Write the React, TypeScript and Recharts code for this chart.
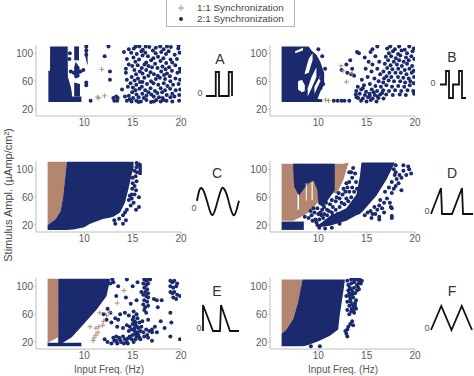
import { ComposedChart, LineChart, Line, Area, Scatter, XAxis, YAxis } from "recharts";

type Pair = [number, number];
type Band = [number, number, number];

const NAVY = "#1b2a6d";
const BROWN = "#b5866f";
const WHITE = "#ffffff";

const xTicks = [10, 15, 20];
const yTicks = [20, 60, 100];

const legendLabels = ["1:1 Synchronization", "2:1 Synchronization"];
const xTitle = "Input Freq. (Hz)";
const yTitle = "Stimulus Ampl. (µAmp/cm²)";

// regiones densas: [frecuencia, amplitud baja, amplitud alta]
const aBlock: Band[] = [[6.28, 30, 75], [6.45, 30, 75], [6.46, 30, 110], [8.28, 30, 110], [8.3, 30, 66], [8.6, 30, 52], [8.7, 30, 44], [8.72, 30, 38], [9.7, 30, 38]];
const aColumn1: Band[] = [[8.95, 38, 58], [9.55, 38, 56]];
const aColumn2: Band[] = [[8.95, 66, 80], [9.1, 64, 88], [9.5, 66, 80]];
const aColumn3: Band[] = [[8.95, 90, 110], [9.45, 90, 110]];
const aColumn4: Band[] = [[10.1, 96, 110], [10.3, 84, 110], [10.35, 84, 86]];

const bBlock: Band[] = [[6.2, 30, 110], [9.0, 30, 110], [9.3, 30, 104], [9.8, 30, 98], [10.2, 45, 88], [10.6, 55, 72]];
const bBase: Band[] = [[8.5, 30, 36], [10.4, 30, 34]];
const bGap1: Band[] = [[7.9, 48, 60], [8.3, 44, 62], [8.6, 46, 54]];
const bGap2: Band[] = [[8.6, 70, 72], [9.0, 72, 92], [9.4, 90, 100]];
const bGap3: Band[] = [[8.9, 38, 50], [9.3, 50, 66], [9.8, 66, 80]];
const bGap4: Band[] = [[7.6, 100, 103], [8.4, 104, 108]];
const bGap5: Band[] = [[9.6, 42, 52], [10.2, 60, 68]];

const cBrown: Band[] = [[6.2, 20, 111], [7.0, 28, 111], [7.55, 40, 111], [7.8, 60, 111], [8.2, 108, 111]];
const cNavy: Band[] = [[6.2, 13, 20], [7.0, 13, 28], [7.55, 13, 40], [7.8, 13, 60], [8.2, 13, 111], [9.0, 14, 111], [10.0, 17, 111], [10.5, 21, 111], [11.0, 24, 111], [12.0, 29, 111], [12.5, 30, 111], [13.0, 32, 111], [13.7, 38, 111], [14.2, 52, 111], [14.55, 71, 111], [14.9, 93, 111], [15.1, 102, 111]];
const cEdge: Band[] = [[15.6, 92, 111], [15.95, 92, 108]];

const dBrown: Band[] = [[6.2, 26, 108], [7.4, 26, 108], [8.0, 30, 108], [9.0, 38, 108], [9.8, 50, 108], [10.2, 57, 108], [11.6, 66, 108], [11.9, 65, 108], [12.6, 85, 108], [13.1, 108, 110]];
const dTop: Band[] = [[7.4, 100, 108], [7.5, 75, 108], [8.0, 62, 108], [8.4, 70, 108], [9.0, 80, 108], [9.5, 84, 108], [9.9, 70, 108], [10.0, 50, 108], [10.5, 46, 108], [11.0, 56, 108], [11.7, 70, 108]];
const dLow: Band[] = [[6.2, 13, 25], [8.5, 13, 25]];
const dDiag: Band[] = [[10.0, 17, 20], [11.2, 19, 33], [12.9, 26, 44], [13.94, 34, 64], [14.3, 36, 90], [14.46, 38, 110], [14.63, 40, 110], [16.0, 62, 110], [17.04, 85, 110], [17.9, 109, 110]];
const dGap1: Band[] = [[7.85, 42, 64], [8.0, 42, 64]];
const dGap2: Band[] = [[8.7, 55, 80], [8.8, 55, 80]];
const dGap3: Band[] = [[9.3, 56, 82], [9.42, 56, 82]];

const eBrown: Band[] = [[6.2, 19, 111], [7.3, 27, 111]];
const eNavy: Band[] = [[7.3, 14, 111], [7.9, 20, 111], [8.7, 27, 111], [9.5, 39, 111], [10.4, 53, 111], [11.3, 67, 111], [12.3, 86, 111], [12.65, 109, 111]];
const eBase: Band[] = [[6.2, 14, 19], [9.7, 14, 19]];

const fBrown: Band[] = [[6.2, 32, 110], [6.7, 38, 110], [7.4, 53, 110], [7.9, 77, 110], [8.37, 108, 110]];
const fNavy: Band[] = [[6.2, 14, 32], [6.7, 14, 38], [7.4, 14, 53], [7.9, 14, 77], [8.37, 14, 110], [8.8, 15, 110], [10.0, 21, 110], [11.2, 29, 110], [12.05, 38, 110], [12.2, 57, 110], [12.57, 91, 110], [12.74, 108, 110]];

// puntos sueltos: [frecuencia, amplitud]
const aDots: Pair[] = [
  [10.2, 110], [10.2, 104], [10.2, 98], [12.5, 110], [12.1, 96], [12.65, 74], [12.65, 62], [10.65, 32], [13, 36], [13.1, 32], [13.3, 38], [13.4, 32], [13.45, 36],
  [10.2, 58], [10.2, 54], [9.9, 76], [9.6, 74], [8.6, 74], [8.9, 72], [8.45, 92], [8.5, 100], [13.9, 48], [14.2, 38], [14.3, 72], [14.4, 62], [14.3, 78], [14.1, 102], [14.4, 92], [14.6, 106], [14.6, 84], [14.5, 52], [14.7, 34],
  [15.12, 107], [15.7, 110], [16.05, 105], [16.72, 109], [17.1, 104], [17.85, 110], [18.2, 106], [18.95, 109], [19.72, 107], [15.33, 110], [16.35, 110], [17.4, 108], [18.55, 110], [19.75, 111],
  [14.85, 101], [15.42, 99], [16.31, 101], [16.58, 96], [17.38, 100], [17.62, 95], [18.45, 99], [18.72, 103], [19.35, 98], [19.85, 101], [15.9, 103], [17.95, 102],
  [15.08, 94], [15.66, 91], [16.02, 97], [16.9, 90], [17.14, 93], [17.88, 89], [18.18, 93], [18.92, 91], [19.58, 92], [19.1, 87], [15.28, 88], [16.4, 87], [18.47, 86],
  [14.96, 82], [15.52, 83], [15.94, 79], [16.63, 82], [17.32, 85], [17.57, 79], [18.08, 81], [18.77, 80], [19.41, 83], [19.88, 78], [16.22, 84], [17.0, 80], [18.4, 77],
  [15.18, 76], [15.74, 74], [16.4, 76], [16.85, 73], [17.2, 70], [17.95, 74], [18.55, 71], [19.06, 75], [19.63, 72], [19.93, 74], [16.02, 71], [15.35, 70], [18.25, 69], [17.6, 68],
  [14.9, 66], [15.55, 64], [16.2, 65], [16.62, 68], [17.4, 63], [17.82, 65], [18.35, 63], [18.85, 67], [19.42, 64], [19.9, 62], [15.2, 61], [16.9, 60], [18.9, 60], [16.02, 59],
  [14.78, 57], [15.37, 55], [15.75, 59], [16.48, 56], [17.15, 57], [17.65, 55], [18.22, 57], [18.6, 53], [19.18, 55], [19.75, 56], [15.02, 51], [15.95, 52], [16.85, 50], [17.9, 50],
  [15.28, 47], [15.7, 49], [16.3, 47], [16.62, 44], [17.3, 46], [17.55, 43], [18.35, 47], [18.88, 49], [19.45, 47], [19.92, 48], [14.95, 44], [16.0, 42], [18.05, 44], [19.1, 42],
  [15.4, 41], [15.62, 37], [16.42, 39], [16.92, 41], [17.18, 38], [17.72, 37], [18.52, 40], [19.32, 38], [19.82, 40], [14.6, 39], [15.05, 36], [16.15, 36], [18.1, 36], [18.9, 37],
  [14.4, 32], [14.88, 31], [15.38, 32], [15.85, 31], [16.42, 33], [16.9, 30], [17.45, 33], [17.9, 31], [18.5, 32], [19.1, 31], [19.8, 32], [15.6, 30], [17.2, 31], [18.2, 33],
];
const aPlus: Pair[] = [[11.8, 77], [11.35, 37], [11.5, 36], [12.1, 39]];

const bDots: Pair[] = [
  [10.0, 106], [10.4, 96], [10.7, 78], [10.3, 64], [10.5, 56], [10.2, 50], [11.6, 32], [12.0, 32], [12.4, 32], [12.7, 32], [13.2, 32], [12.4, 76], [12.9, 84], [13.3, 90], [13.5, 78], [13.0, 72],
  [13.7, 68], [13.4, 70], [14.0, 102], [14.2, 100], [14.8, 94], [15.4, 102], [15.6, 106], [16.1, 110], [15.9, 96], [15.2, 88], [15.6, 84], [16.3, 88], [14.9, 78], [15.5, 74], [16.1, 78], [14.5, 62],
  [15.1, 66], [15.8, 64], [16.4, 70], [16.8, 64], [17.12, 107], [17.44, 110], [17.92, 106], [18.36, 110], [18.94, 105], [19.41, 110], [19.88, 107], [17.3, 100], [17.72, 103], [18.25, 99], [18.61, 104], [19.18, 100], [19.74, 103],
  [16.98, 95], [17.53, 96], [18.02, 93], [18.48, 97], [19.07, 94], [19.62, 96], [17.22, 90], [17.81, 88], [18.36, 90], [18.83, 88], [19.35, 90], [19.92, 92], [16.88, 85], [17.47, 83], [18.13, 84], [18.64, 82], [19.18, 85], [19.7, 82],
  [17.12, 79], [17.66, 77], [18.27, 78], [18.94, 76], [19.42, 78], [19.88, 75], [16.74, 74], [17.35, 72], [17.98, 72], [18.53, 72], [19.12, 70], [19.66, 72], [17.05, 67], [17.55, 66], [18.24, 66], [18.79, 65], [19.35, 64], [19.9, 66],
  [16.24, 60], [16.72, 58], [17.28, 61], [17.83, 60], [18.47, 60], [18.98, 58], [19.52, 60], [19.88, 57], [14.08, 52], [14.72, 54], [15.33, 56], [15.91, 53], [16.47, 52], [17.04, 54], [17.62, 52], [18.27, 53], [18.88, 52], [19.46, 54],
  [13.92, 46], [14.43, 48], [14.94, 45], [15.52, 48], [16.08, 46], [16.71, 47], [17.31, 46], [17.94, 47], [18.58, 46], [19.22, 47], [19.82, 46], [13.88, 41], [14.28, 42], [14.82, 40], [15.3, 42], [15.84, 40], [16.4, 41], [17.02, 41], [17.7, 40], [18.42, 41], [19.05, 40], [19.9, 42],
  [14.12, 36], [14.6, 35], [15.14, 37], [15.62, 35], [16.22, 36], [16.74, 35], [14.42, 32], [14.98, 31], [15.42, 33], [16.02, 31], [13.95, 37], [15.32, 39], [16.12, 38], [15.72, 44], [14.6, 50], [16.6, 43],
];
const bPlus: Pair[] = [[12.35, 82], [12.55, 75], [13.5, 71], [12.9, 59], [10.75, 33], [11.05, 32]];

const cDots: Pair[] = [[13.2, 22], [14, 22], [14.3, 27], [14, 34], [14.4, 42], [14.8, 48], [15.35, 42], [15.65, 46], [15.65, 60], [15.35, 70], [15.4, 83], [15.2, 76], [13.1, 27], [14.9, 58], [15.2, 64], [14.6, 56], [15.0, 88], [15.2, 98], [15.4, 109], [15.4, 103], [14.9, 64], [14.7, 62], [13.6, 29], [14.2, 38], [15.0, 80], [15.3, 90], [15.45, 96], [14.95, 72], [15.5, 106], [15.1, 52]];

const dDots: Pair[] = [
  [8.6, 32], [9.0, 30], [9.3, 34], [9.6, 38], [9.9, 44], [10.2, 38], [10.6, 46], [10.9, 42], [11.2, 50], [11.5, 46], [11.8, 54], [12.2, 58], [12.5, 64], [12.8, 68], [13.0, 74], [13.2, 82], [13.5, 88], [13.9, 82], [13.8, 94], [13.6, 102], [13.2, 96], [12.9, 80],
  [9.8, 24], [10.1, 28], [10.5, 30], [10.9, 34], [11.4, 38], [11.8, 42], [12.2, 46], [12.7, 50], [13.1, 54], [13.4, 60], [13.7, 68], [9.9, 20], [10.6, 36], [11.2, 28], [12.0, 36], [9.7, 28], [9.4, 26], [10.3, 34], [10.0, 36], [9.2, 40], [9.5, 44], [10.8, 52], [11.1, 40], [11.5, 34], [12.4, 52], [12.9, 58], [13.2, 68], [13.5, 74], [12.6, 72], [11.9, 60],
  [10.4, 42], [11.4, 56], [12.1, 66], [13.4, 96], [14.0, 72], [14.1, 56], [10.1, 16], [10.7, 15], [11.4, 16], [12.2, 22],
  [15.4, 40], [15.9, 36], [16.3, 48], [16.6, 44], [16.8, 52], [17.1, 58], [17.4, 52], [17.6, 66], [17.8, 72], [18.0, 76], [17.6, 44], [17.5, 46], [18.3, 80], [18.6, 70], [18.1, 86], [18.4, 92], [18.8, 98], [19.1, 92], [19.4, 100], [19.6, 94], [18.8, 106], [19.3, 104], [18.6, 88], [14.8, 34], [15.5, 30], [16.3, 28], [16.3, 32], [17.6, 30], [17.6, 33], [16.8, 38], [18.0, 106], [17.8, 100], [17.9, 92], [16.4, 56], [16.9, 68], [17.3, 74], [17.6, 82], [18.0, 96], [15.8, 46], [15.1, 38], [15.6, 36], [16.1, 42],
];

const eDots: Pair[] = [
  [12.9, 110], [13.0, 106], [12.7, 104], [13.3, 86], [13.5, 100], [14.4, 110], [15.0, 100], [15.5, 106], [15.9, 92], [14.3, 84], [15.4, 80], [14.8, 75],
  [16.2, 110], [16.4, 108], [16.6, 110], [16.8, 110], [16.1, 104], [16.4, 102], [16.6, 104], [16.2, 98], [16.5, 96], [16.3, 92], [16.6, 90], [16.1, 88], [16.4, 86], [16.6, 84], [16.2, 80], [16.5, 78], [16.1, 74], [16.3, 70], [16.6, 72], [16.2, 66], [16.4, 62],
  [18.9, 108], [19.1, 106], [19.3, 108], [19.6, 104], [18.9, 100], [19.2, 98], [19.5, 100], [18.9, 92], [19.1, 90], [19.3, 92], [19.6, 88], [19.9, 86], [19.2, 84], [19.5, 82], [17.2, 82], [17.5, 80], [18.0, 80], [17.6, 70], [18.9, 62], [19.0, 48], [17.9, 50], [18.3, 40],
  [12.0, 60], [12.4, 68], [12.7, 62], [12.3, 52], [12.8, 48], [13.2, 54], [13.5, 52], [13.7, 60], [14.2, 62], [14.6, 58], [15.1, 64], [15.4, 60], [15.0, 52], [15.2, 50], [15.5, 54], [15.7, 48], [16.0, 50], [16.6, 52], [17.3, 42], [17.0, 38],
  [13.4, 42], [14.0, 40], [14.4, 44], [14.7, 42], [15.0, 46], [15.3, 44], [15.6, 40], [15.9, 42], [14.6, 36], [14.9, 38], [15.2, 36], [15.5, 34], [15.8, 36], [16.1, 34], [16.4, 38], [16.7, 36], [17.0, 34], [17.5, 34], [16.2, 28], [15.7, 26], [15.4, 28],
  [12.1, 24], [12.4, 20], [12.8, 18], [13.1, 22], [13.3, 28], [13.6, 26], [13.8, 20], [14.0, 28], [14.2, 24], [14.4, 20], [14.7, 28], [14.9, 24], [15.1, 20], [15.3, 24], [14.5, 18], [13.4, 18], [16.6, 26], [17.0, 22], [18.9, 28], [19.9, 24],
  [15.0, 30], [15.3, 32], [15.1, 56], [15.3, 48], [15.45, 42], [15.2, 40], [15.6, 30], [13.0, 26], [13.3, 22], [13.7, 23], [14.1, 18], [14.5, 25], [15.8, 24], [16.5, 30],
];
const ePlus: Pair[] = [[14.1, 94], [13.4, 76], [10.6, 42], [11.5, 42], [11.9, 44], [11.2, 40], [11.4, 34], [11.0, 26], [11.2, 30], [10.9, 22], [12.3, 58], [11.6, 62], [12.6, 63], [12.0, 50]];

const fDots: Pair[] = [
  [9.23, 14], [10.16, 14], [13.0, 28], [12.9, 32], [12.8, 36], [13.0, 38], [13.1, 42], [13.3, 46], [13.5, 50], [13.6, 44], [13.2, 60], [13.4, 64], [13.6, 66], [13.9, 68], [13.7, 62], [13.0, 66], [13.2, 72],
  [13.5, 74], [13.8, 76], [13.0, 78], [13.3, 82], [13.6, 84], [13.9, 80], [12.9, 86], [13.2, 90], [13.5, 88], [13.8, 90], [13.1, 94], [13.4, 96], [13.7, 98], [14.0, 94], [14.2, 96], [13.1, 102], [13.4, 104], [13.7, 106], [14.0, 102], [14.2, 105], [14.5, 108], [14.0, 110], [13.4, 110], [14.4, 104], [13.0, 108], [14.1, 99],
  [13.45, 68], [13.35, 78], [13.65, 70], [13.25, 86], [13.8, 72], [13.55, 92], [13.25, 98], [13.75, 110], [14.25, 110],
];

// formas de onda: [t, nivel]
const aWave: Pair[] = [[0, 0], [9, 0], [9, 1], [12, 1], [12, 0], [21, 0], [21, 1], [24, 1], [24, 0]];
const bWave: Pair[] = [[0, 0], [6, 0], [6, 1], [9, 1], [9, -1], [13, -1], [13, 0], [19, 0], [19, 1], [22, 1], [22, -1], [26, -1]];
const cWave: Pair[] = [[0, 0.05], [2, 0.75], [4.3, 1], [7, 0.7], [10, 0], [13, -0.75], [15.5, -1], [18, -0.6], [21, 0.2], [24, 0.9], [26, 1], [29, 0.6], [32, -0.2], [35, -0.9], [37, -1], [39, -0.65], [41.5, 0.05]];
const dWave: Pair[] = [[0, 0], [10, 1], [11, 0], [21, 0], [31, 1], [32, 0], [42, 0]];
const eWave: Pair[] = [[0, 0], [0, 1], [10, 0], [17, 0], [18, 1], [27, 0], [36, 0]];
const fWave: Pair[] = [[0, 0], [10, 1], [20, 0], [30, 1], [40, 0]];

const toBand = (rows: Band[]) => rows.map(([x, lo, hi]) => ({ x, range: [lo, hi] }));
const toDots = (rows: Pair[]) => rows.map(([x, y]) => ({ x, y }));

const renderDot = (props: any) => <circle cx={props.cx} cy={props.cy} r={2} fill={NAVY} />;
const renderPlus = (props: any) => (
  <path d={`M${props.cx - 2.5} ${props.cy}h5M${props.cx} ${props.cy - 2.5}v5`} stroke="#a98a70" strokeWidth={0.9} fill="none" />
);

interface PanelProps {
  left: number;
  top: number;
  plotWidth: number;
  bands: { rows: Band[]; fill: string }[];
  dots: Pair[];
  plus?: Pair[];
}

function Panel({ left, top, plotWidth, bands, dots, plus }: PanelProps) {
  return (
    <div style={{ position: "absolute", left, top }}>
      <ComposedChart width={36 + plotWidth + 10} height={102} margin={{ top: 10, right: 10, left: 0, bottom: 0 }}>
        <XAxis
          type="number"
          dataKey="x"
          domain={[5, 20]}
          ticks={xTicks}
          interval={0}
          height={21}
          allowDataOverflow
          tickSize={2}
          tickMargin={1}
          stroke="#bdbdbd"
          tick={{ fontSize: 10, fill: "#5a5a5a", fontFamily: "Liberation Sans" }}
        />
        <YAxis
          type="number"
          dataKey="y"
          domain={[10, 112]}
          ticks={yTicks}
          interval={0}
          width={36}
          allowDataOverflow
          tickSize={2}
          tickMargin={1}
          stroke="#bdbdbd"
          tick={{ fontSize: 10, fill: "#5a5a5a", fontFamily: "Liberation Sans" }}
        />
        {bands.map((b, i) => (
          <Area key={i} data={toBand(b.rows)} dataKey="range" type="linear" stroke="none" fill={b.fill} fillOpacity={1} dot={false} activeDot={false} isAnimationActive={false} />
        ))}
        <Scatter data={toDots(dots)} shape={renderDot} isAnimationActive={false} />
        {plus && <Scatter data={toDots(plus)} shape={renderPlus} isAnimationActive={false} />}
      </ComposedChart>
    </div>
  );
}

interface WaveProps {
  left: number;
  top: number;
  width: number;
  height: number;
  rows: Pair[];
  curved?: boolean;
  name: string;
  nameX: number;
  nameY: number;
  zeroX: number;
  zeroY: number;
}

function Wave({ left, top, width, height, rows, curved, name, nameX, nameY, zeroX, zeroY }: WaveProps) {
  return (
    <>
      <div style={{ position: "absolute", left, top }}>
        <LineChart width={width + 4} height={height + 4} data={rows.map(([t, v]) => ({ t, v }))} margin={{ top: 2, right: 2, bottom: 2, left: 2 }}>
          <XAxis type="number" dataKey="t" domain={["dataMin", "dataMax"]} hide />
          <YAxis type="number" domain={["dataMin", "dataMax"]} hide />
          <Line dataKey="v" type={curved ? "natural" : "linear"} stroke="#111" strokeWidth={1.8} dot={false} isAnimationActive={false} />
        </LineChart>
      </div>
      <div style={{ position: "absolute", left: nameX - 15, top: nameY - 9, width: 30, textAlign: "center", fontSize: 14, lineHeight: "18px", color: "#333" }}>{name}</div>
      <div style={{ position: "absolute", left: zeroX - 8, top: zeroY - 6, width: 16, textAlign: "center", fontSize: 9, lineHeight: "12px", color: "#555" }}>0</div>
    </>
  );
}

export default function App() {
  return (
    <div style={{ position: "absolute", left: 0, top: 0, width: 474, height: 376, background: "#fff", overflow: "hidden", fontFamily: "Liberation Sans, sans-serif" }}>
      {/* leyenda */}
      <div style={{ position: "absolute", left: 166, top: -1, width: 127, height: 26, border: "1px solid #b5b5b5" }} />
      <svg style={{ position: "absolute", left: 175, top: 2 }} width={12} height={22}>
        <path d="M3 6h6M6 3v6" stroke="#a98a70" strokeWidth={0.9} fill="none" />
        <circle cx={6} cy={17} r={2} fill={NAVY} />
      </svg>
      {legendLabels.map((label, i) => (
        <div key={label} style={{ position: "absolute", left: 197, top: 2 + i * 11, fontSize: 9.9, lineHeight: "12px", color: "#444", whiteSpace: "nowrap" }}>{label}</div>
      ))}

      <Panel left={0} top={35} plotWidth={145} bands={[{ rows: aBlock, fill: NAVY }, { rows: aColumn1, fill: NAVY }, { rows: aColumn2, fill: NAVY }, { rows: aColumn3, fill: NAVY }, { rows: aColumn4, fill: NAVY }]} dots={aDots} plus={aPlus} />
      <Panel left={234} top={35} plotWidth={145} bands={[{ rows: bBlock, fill: NAVY }, { rows: bBase, fill: NAVY }, { rows: bGap1, fill: WHITE }, { rows: bGap2, fill: WHITE }, { rows: bGap3, fill: WHITE }, { rows: bGap4, fill: WHITE }, { rows: bGap5, fill: WHITE }]} dots={bDots} plus={bPlus} />
      <Panel left={0} top={151} plotWidth={145} bands={[{ rows: cBrown, fill: BROWN }, { rows: cNavy, fill: NAVY }, { rows: cEdge, fill: NAVY }]} dots={cDots} />
      <Panel left={234} top={151} plotWidth={145} bands={[{ rows: dBrown, fill: BROWN }, { rows: dTop, fill: NAVY }, { rows: dLow, fill: NAVY }, { rows: dDiag, fill: NAVY }, { rows: dGap1, fill: WHITE }, { rows: dGap2, fill: WHITE }, { rows: dGap3, fill: WHITE }]} dots={dDots} />
      <Panel left={0} top={268} plotWidth={145} bands={[{ rows: eBrown, fill: BROWN }, { rows: eNavy, fill: NAVY }, { rows: eBase, fill: NAVY }]} dots={eDots} plus={ePlus} />
      <Panel left={234} top={268} plotWidth={145} bands={[{ rows: fBrown, fill: BROWN }, { rows: fNavy, fill: NAVY }]} dots={fDots} />

      <Wave left={204} top={70} width={26} height={24} rows={aWave} name="A" nameX={220} nameY={59} zeroX={200} zeroY={93} />
      <Wave left={438} top={69} width={26} height={27} rows={bWave} name="B" nameX={452} nameY={57} zeroX={433} zeroY={83} />
      <Wave left={195} top={186} width={42} height={27} rows={cWave} curved name="C" nameX={217} nameY={173} zeroX={194} zeroY={208} />
      <Wave left={429} top={186} width={42} height={26} rows={dWave} name="D" nameX={452} nameY={173} zeroX={427} zeroY={211} />
      <Wave left={201} top={303} width={36} height={26} rows={eWave} name="E" nameX={217} nameY={291} zeroX={199} zeroY={328} />
      <Wave left={429} top={304} width={41} height={24} rows={fWave} name="F" nameX={452} nameY={291} zeroX={427} zeroY={328} />

      <div style={{ position: "absolute", left: 59, top: 363, width: 100, textAlign: "center", fontSize: 10, lineHeight: "13px", color: "#555", whiteSpace: "nowrap" }}>{xTitle}</div>
      <div style={{ position: "absolute", left: 293, top: 363, width: 100, textAlign: "center", fontSize: 10, lineHeight: "13px", color: "#555", whiteSpace: "nowrap" }}>{xTitle}</div>
      <div style={{ position: "absolute", left: 8, top: 195, width: 0, height: 0 }}>
        <div style={{ position: "absolute", left: -80, top: -7, width: 160, textAlign: "center", transform: "rotate(-90deg)", fontSize: 11, lineHeight: "14px", color: "#444", whiteSpace: "nowrap" }}>{yTitle}</div>
      </div>
    </div>
  );
}
